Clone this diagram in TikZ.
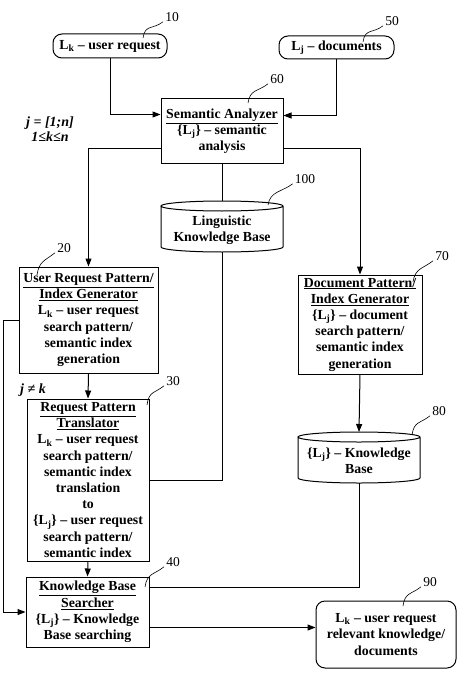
\documentclass[tikz,border=0pt]{standalone}
\usepackage{fontspec}
\setmainfont{Liberation Serif}
\usetikzlibrary{arrows.meta,calc}
\begin{document}
\begin{tikzpicture}[x=1pt,y=-1pt]
\tikzset{
 base/.style={font=\fontsize{13.8}{16.2}\selectfont\bfseries, align=center, inner sep=1pt},
 box/.style={base, draw, line width=1pt},
 rbox/.style={box, rounded corners=9pt},
 cyl/.style={outer sep=0pt, inner sep=0pt},
 cyltext/.style={base, yshift=-3.5pt},
 num/.style={font=\fontsize{13.5}{15}\selectfont, inner sep=1pt},
 wire/.style={line width=1pt},
 arr/.style={wire, -{Triangle[length=8pt,width=6pt]}},
 lead/.style={line width=0.6pt},
 note/.style={font=\fontsize{14}{16}\selectfont\bfseries\itshape, inner sep=1pt}
}
\useasboundingbox (0,0) rectangle (474,679);

% nodes
\node[rbox, minimum width=114pt, minimum height=24pt] (n10) at (110,46) {L\textsubscript{k} – user request};
\node[rbox, minimum width=115pt, minimum height=23pt] (n50) at (336.5,47.5) {L\textsubscript{j} – documents};
\node[box, minimum width=122pt, minimum height=65pt] (n60) at (222,131.5) {\underline{Semantic Analyzer}\\\{L\textsubscript{j}\} – semantic\\analysis};
\node[cyl, minimum width=122pt, minimum height=51pt, label={[cyltext]center:{Linguistic\\Knowledge Base}}] (n100) at (222,226.5) {};
\node[box, minimum width=139pt, minimum height=106pt] (n20) at (88.5,320) {\underline{User Request Pattern/}\\\underline{Index Generator}\\L\textsubscript{k} – user request\\search pattern/\\semantic index\\generation};
\node[box, minimum width=124pt, minimum height=99pt] (n70) at (360,324.5) {\underline{Document Pattern/}\\\underline{Index Generator}\\\{L\textsubscript{j}\} – document\\search pattern/\\semantic index\\generation};
\node[box, minimum width=122pt, minimum height=162pt] (n30) at (88,480) {\underline{Request Pattern}\\\underline{Translator}\\L\textsubscript{k} – user request\\search pattern/\\semantic index\\translation\\to\\\{L\textsubscript{j}\} – user request\\search pattern/\\semantic index};
\node[cyl, minimum width=122pt, minimum height=51pt, label={[cyltext]center:{\{L\textsubscript{j}\} – Knowledge\\Base}}] (n80) at (359,457.5) {};
\node[box, minimum width=123pt, minimum height=70pt] (n40) at (87.5,612) {\underline{Knowledge Base}\\\underline{Searcher}\\\{L\textsubscript{j}\} – Knowledge\\Base searching};
\node[rbox, minimum width=140pt, minimum height=67pt] (n90) at (386,634.5) {L\textsubscript{k} – user request\\relevant knowledge/\\documents};

% cylinders
\foreach \c in {n100,n80}{
  \draw[wire] ([yshift=-5pt]\c.north west) -- ([yshift=5pt]\c.south west)
    arc[start angle=180,end angle=360,x radius=61pt,y radius=5pt]
    -- ([yshift=-5pt]\c.north east)
    arc[start angle=0,end angle=180,x radius=61pt,y radius=5pt]
    arc[start angle=180,end angle=360,x radius=61pt,y radius=5pt];
}

% notes
\node[note] (nj) at (50,123) {j = [1;n]};
\node[note] (nk) at (50,137) {1≤k≤n};
\node[note] (njk) at (33,390) {j ≠ k};

% connectors
\draw[arr] (n10.south) |- ([yshift=-16pt]n60.north west);
\draw[arr] (n50.south) |- ([yshift=-17pt]n60.north east);
\draw[arr] ([yshift=16pt]n60.south west) -| (n20.north);
\draw[arr] ([yshift=16pt]n60.south east) -| (n70.north);
\draw[wire] (n60.south) -- (n100.north);
\draw[wire] (n100.south) |- (n30.east);
\draw[arr] (n20.south) -- (n30.north);
\draw[arr] (n20.west) -- ++(-15,0) |- (n40.west);
\draw[arr] (n70.south) -- (n80.north);
\draw[wire] (n80.south) |- ([yshift=-11pt]n40.north east);
\draw[arr] (n30.south) -- (n40.north);
\coordinate (k1) at ([yshift=20pt]n40.south east);
\draw[arr] (k1) -- (k1 -| n90.west);

% reference numerals
\node[num] (l10) at (172,17) {10};
\node[num] (l50) at (392,21) {50};
\node[num] (l60) at (277,79) {60};
\node[num] (l100) at (305,179) {100};
\node[num] (l20) at (64,248) {20};
\node[num] (l70) at (442,256) {70};
\node[num] (l30) at (173,381) {30};
\node[num] (l80) at (439,411) {80};
\node[num] (l40) at (173,562) {40};
\node[num] (l90) at (430,582) {90};

\coordinate (s10) at (143,38);
\coordinate (s50) at (363,42);
\coordinate (s60) at (248,103);
\coordinate (s100) at (268,205);
\coordinate (s20) at (37,275);
\coordinate (s70) at (413,282);
\coordinate (s30) at (147,405);
\coordinate (s80) at (412,435);
\coordinate (s40) at (145,587);
\coordinate (s90) at (403,606);
\foreach \n in {10,50,60,100,20,70,30,80,40,90}{
  \draw[lead] (s\n) .. controls +(2,-14) and +(-10,8) .. ([xshift=-1pt,yshift=1pt]l\n.south west);
}
\end{tikzpicture}
\end{document}
